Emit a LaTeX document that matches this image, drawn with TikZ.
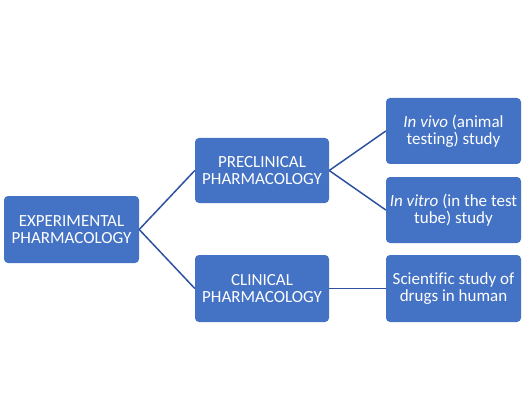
\documentclass[tikz,border=0pt]{standalone}
\usepackage{fontspec}
\setmainfont[Ligatures={NoCommon}]{Carlito}
\definecolor{boxfill}{HTML}{4472C4}
\definecolor{linecol}{HTML}{2F52A0}
\begin{document}
\begin{tikzpicture}[x=1pt,y=-1pt,
  box/.style={fill=boxfill,draw=none,rounded corners=4pt,text=white,align=center,
    font=\fontsize{17}{17}\selectfont,inner sep=0pt},
  conn/.style={draw=linecol,line width=1.5pt}]
\useasboundingbox (0,0) rectangle (531,420);
\fill[white] (0,0) rectangle (531,420);
\node[box,minimum width=135pt,minimum height=67pt] (exp) at (71.5,229.5) {EXPERIMENTAL\\PHARMACOLOGY};
\node[box,minimum width=134pt,minimum height=65pt] (pre) at (262,170.5) {PRECLINICAL\\PHARMACOLOGY};
\node[box,minimum width=134pt,minimum height=67pt] (cli) at (262,288.5) {CLINICAL\\PHARMACOLOGY};
\node[box,minimum width=135pt,minimum height=66pt] (viv) at (453.5,131) {\textit{In vivo} (animal\\testing) study};
\node[box,minimum width=135pt,minimum height=66pt] (vit) at (453.5,210) {\textit{In vitro} (in the test\\tube) study};
\node[box,minimum width=135pt,minimum height=67pt] (sci) at (453.5,288.5) {Scientific study of\\drugs in human};
\draw[conn] (exp.east) -- (pre.west);
\draw[conn] (exp.east) -- (cli.west);
\draw[conn] (pre.east) -- (viv.west);
\draw[conn] (pre.east) -- (vit.west);
\draw[conn] (cli.east) -- (sci.west);
\end{tikzpicture}
\end{document}
